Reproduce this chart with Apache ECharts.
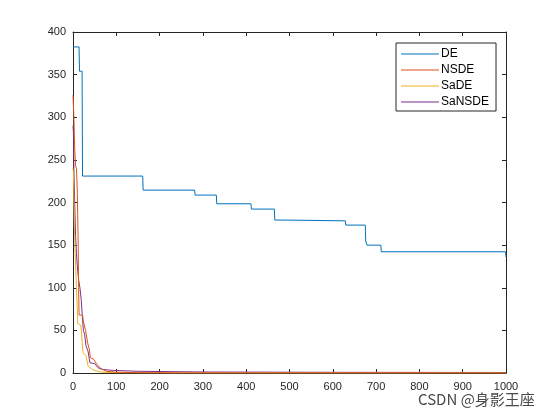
<!DOCTYPE html>
<html>
<head>
<meta charset="utf-8">
<script src="https://cdn.jsdelivr.net/npm/echarts@6/dist/echarts.min.js"></script>
<style>
html,body{margin:0;padding:0;background:#fff;}
#chart{width:560px;height:420px;}
</style>
</head>
<body>
<div id="chart"></div>
<script>
// Data (iteration, best fitness)
const seriesNames = ['DE', 'NSDE', 'SaDE', 'SaNSDE'];
const xTicks = [0, 100, 200, 300, 400, 500, 600, 700, 800, 900, 1000];
const yTicks = [0, 50, 100, 150, 200, 250, 300, 350, 400];

const deIters = [0, 14, 15, 21, 22, 161, 162, 281, 282, 331, 332, 411, 412, 465, 466, 487, 488, 629, 630, 675, 676, 678, 679, 711, 712, 999, 1000];
const deVals  = [382.5, 382.5, 354, 354, 231, 231, 214.5, 214.5, 208.7, 208.7, 198.5, 198.5, 192.3, 192.3, 179.4, 179.4, 178.5, 178.5, 173.5, 173.5, 154.7, 154.7, 150, 150, 142.2, 142.2, 136];

const nsdeIters = [0, 2, 4, 6, 8, 10, 12, 13, 14, 22, 24, 29, 34, 38, 40, 48, 55, 65, 77, 100, 150, 250, 1000];
const nsdeVals  = [326, 300, 262, 243, 240, 212, 150, 100, 68, 68, 60, 50, 35, 27, 18, 16, 10, 5, 2, 1, 0.4, 0.1, 0.02];

const sadeIters = [0, 1, 2, 3, 5, 8, 10, 11, 18, 20, 23, 30, 35, 45, 65, 100, 200, 1000];
const sadeVals  = [240, 236, 200, 175, 140, 100, 75, 58, 56, 45, 24, 20, 8, 4, 1, 0.3, 0.05, 0];

const sansdeIters = [0, 1, 2, 4, 6, 8, 10, 13, 16, 19, 21, 24, 27, 30, 35, 39, 50, 58, 70, 95, 150, 300, 600, 1000];
const sansdeVals  = [290, 282, 240, 200, 160, 140, 125, 109, 100, 86, 70, 50, 45, 32, 25, 12, 11, 6, 4, 3, 2, 1.2, 0.8, 0.6];

const colors = ['#0072BD', '#D95319', '#EDB120', '#7E2F8E'];

function pairs(xs, ys) { return xs.map((x, i) => [x, ys[i]]); }

const allData = [
  pairs(deIters, deVals),
  pairs(nsdeIters, nsdeVals),
  pairs(sadeIters, sadeVals),
  pairs(sansdeIters, sansdeVals)
];

const chart = echarts.init(document.getElementById('chart'));
const axisColor = '#262626';
const font = 'Liberation Sans, Arial, Helvetica, sans-serif';

const xBase = {
  type: 'value', min: xTicks[0], max: xTicks[xTicks.length - 1], interval: 100,
  splitLine: { show: false },
  axisLine: { show: true, onZero: false, lineStyle: { color: axisColor, width: 1 } },
  axisTick: { show: true, inside: true, length: 4, lineStyle: { color: axisColor } }
};
const yBase = {
  type: 'value', min: yTicks[0], max: yTicks[yTicks.length - 1], interval: 50,
  splitLine: { show: false },
  axisLine: { show: true, onZero: false, lineStyle: { color: axisColor, width: 1 } },
  axisTick: { show: true, inside: true, length: 4, lineStyle: { color: axisColor } }
};

chart.setOption({
  animation: false,
  backgroundColor: '#ffffff',
  grid: { left: 73, right: 54, top: 32, bottom: 47, containLabel: false },
  xAxis: [
    Object.assign({}, xBase, { position: 'bottom',
      axisLabel: { show: true, color: axisColor, fontSize: 11, fontFamily: font, margin: 8,
        formatter: v => String(v) } }),
    Object.assign({}, xBase, { position: 'top', axisLabel: { show: false } })
  ],
  yAxis: [
    Object.assign({}, yBase, { position: 'left',
      axisLabel: { show: true, color: axisColor, fontSize: 11, fontFamily: font, margin: 7,
        formatter: v => String(v) } }),
    Object.assign({}, yBase, { position: 'right', axisLabel: { show: false } })
  ],
  legend: {
    orient: 'vertical',
    left: 396, top: 43,
    padding: [4, 7, 2, 5],
    itemWidth: 38, itemHeight: 1,
    itemGap: 2,
    icon: 'rect',
    borderColor: axisColor, borderWidth: 1,
    backgroundColor: '#ffffff',
    textStyle: { color: '#000', fontSize: 12, fontFamily: font, lineHeight: 14, padding: [0, 0, 0, -3] },
    data: seriesNames
  },
  series: seriesNames.map((name, i) => ({
    name: name,
    type: 'line',
    xAxisIndex: 0, yAxisIndex: 0,
    data: allData[i],
    symbol: 'none',
    showSymbol: false,
    lineStyle: { color: colors[i], width: 1 },
    itemStyle: { color: colors[i] },
    z: 10 - i
  })),
  graphic: [{
    type: 'text',
    left: 418, top: 392,
    style: {
      text: 'CSDN @身影王座',
      fill: '#4a4a4a',
      font: '15px "Noto Sans CJK SC", "Liberation Sans", sans-serif'
    }
  }]
});
</script>
</body>
</html>
